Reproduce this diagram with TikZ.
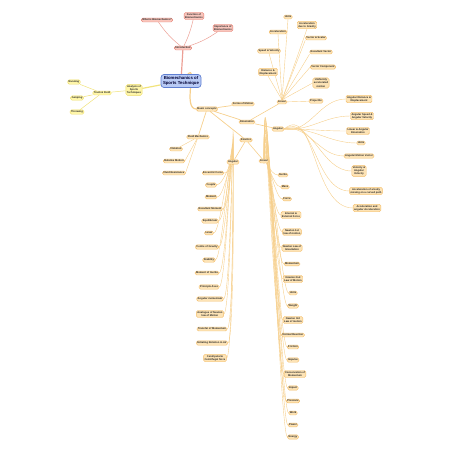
\documentclass[tikz,border=0pt]{standalone}
\usepackage{fontspec}
\newfontfamily\mapfont{Liberation Sans}
\usetikzlibrary{backgrounds}

\definecolor{obf}{HTML}{FDE3B5}
\definecolor{obd}{HTML}{F2BC68}
\definecolor{oln}{HTML}{F6CF8C}
\definecolor{rbf}{HTML}{F9C6BD}
\definecolor{rbd}{HTML}{E37A6D}
\definecolor{rln}{HTML}{EC9F95}
\definecolor{ybf}{HTML}{FFF6A8}
\definecolor{ybd}{HTML}{ECDB66}
\definecolor{yln}{HTML}{F1E37C}
\definecolor{cbf}{HTML}{B9CBF5}
\definecolor{cbd}{HTML}{5F7FD1}

\tikzset{
  box/.style={draw, rounded corners=1.5pt, inner sep=1pt, align=center, line width=0.4pt,
    text=black!85, font={\mapfont\bfseries\fontsize{2.6}{3.1}\selectfont}},
  obox/.style={box, draw=obd, fill=obf},
  rbox/.style={box, draw=rbd, fill=rbf},
  ybox/.style={box, draw=ybd, fill=ybf},
  cbox/.style={box, draw=cbd, fill=cbf, line width=0.7pt, rounded corners=3pt, inner sep=2pt,
    text=black!80!blue, font={\mapfont\bfseries\fontsize{4.3}{5}\selectfont}},
  oline/.style={draw=oln, line width=0.4pt},
  rline/.style={draw=rln, line width=0.5pt},
  yline/.style={draw=yln, line width=0.5pt},
  % y axis points down: out=90 is downwards on the page
  leftdrop/.style={out=90, in=0, out distance=#1, in distance=8pt},
  rightdrop/.style={out=90, in=180, out distance=#1, in distance=8pt}
}

\begin{document}
\begin{tikzpicture}[x=1pt, y=-1pt]
		\useasboundingbox (0,0) rectangle (452,452);
		
		%%%%% CENTRE %%%%%
		\node[cbox] (bio) at (181,81) {Biomechanics of\\Sports Technique};
		
		%%%%% INTRODUCTION %%%%%
		\node[rbox] (intro) at (183,48) {Introduction};
		\node[rbox] (what) at (157,20) {What is Biomechanics?};
		\node[rbox] (func) at (194,16) {Function of\\Biomechanics};
		\node[rbox] (imp) at (223,28) {Importance of\\Biomechanics};
		
		%%%%% ANALYSIS %%%%%
		\node[ybox] (analysis) at (134,90) {Analysis of\\Sports\\Techniques};
		\node[ybox] (track) at (102,93) {Track \& Field};
		\node[ybox] (running) at (74,82) {Running};
		\node[ybox] (jumping) at (77,98) {Jumping};
		\node[ybox] (throwing) at (77,112) {Throwing};
		
		%%%%% BASIC CONCEPTS %%%%%
		\node[obox] (basic) at (207,109) {Basic concepts};
		\node[obox] (forms) at (243,104) {Forms of Motion};
		\node[obox] (kinem) at (247,122) {Kinematics};
		\node[obox] (kinet) at (246,140) {Kinetics};
		\node[obox] (fluid) at (198,137) {Fluid Mechanics};
		\node[obox] (flot) at (176,149) {Flotation};
		\node[obox] (relmot) at (174,161) {Relative Motion};
		\node[obox] (fluidres) at (174,173) {Fluid Resistance};
		
		% kinematics - linear
		\node[obox] (linA) at (282,102) {Linear};
		\node[obox] (unitsA) at (288,17) {Units};
		\node[obox] (accg) at (307,25) {Acceleration\\due to Gravity};
		\node[obox] (acc) at (278,32) {Acceleration};
		\node[obox] (vecsc) at (316,38) {Vector \& Scalar};
		\node[obox] (speed) at (269,51) {Speed \& Velocity};
		\node[obox] (resvec) at (321,52) {Resultant Vector};
		\node[obox] (dist) at (268,72) {Distance \&\\Displacement};
		\node[obox] (veccomp) at (323,67) {Vector Component};
		\node[obox] (uniacc) at (321,83) {Uniformly\\accelerated\\motion};
		\node[obox] (proj) at (316,101) {Projectile};
		
		% kinematics - angular
		\node[obox] (angA) at (278,129) {Angular};
		\node[obox] (angdist) at (359,99) {Angular Distance \&\\Displacement};
		\node[obox] (angspeed) at (362,116) {Angular Speed \&\\Angular Velocity};
		\node[obox] (linang) at (358,131) {Linear \& Angular\\Kinematics};
		\node[obox] (unitsB) at (361,143) {Units};
		\node[obox] (angvec) at (359,156) {Angular Motion Vector};
		\node[obox] (velang) at (359,171) {Velocity \&\\Angular\\Velocity};
		\node[obox] (acccurve) at (366,191) {Acceleration of a body\\moving on a curved path};
		\node[obox] (accang) at (367,208) {Acceleration and\\angular Acceleration};
		
		% kinetics - angular
		\node[obox] (angK) at (233,162) {Angular};
		\node[obox] (eccf) at (213,173) {Eccentric Force};
		\node[obox] (couple) at (211,185) {Couple};
		\node[obox] (moment) at (211,197) {Moment};
		\node[obox] (resmom) at (210,209) {Resultant Moment};
		\node[obox] (equil) at (210,221) {Equilibrium};
		\node[obox] (lever) at (209,233) {Lever};
		\node[obox] (cog) at (207,247) {Centre of Gravity};
		\node[obox] (stab) at (209,260) {Stability};
		\node[obox] (moi) at (207,273) {Moment of Inertia};
		\node[obox] (paxes) at (209,287) {Principle Axes};
		\node[obox] (angmom) at (210,299) {Angular momentum};
		\node[obox] (analog) at (210,314) {Analogue of Newton\\law of Motion};
		\node[obox] (transfer) at (212,329) {Transfer of Momentum};
		\node[obox] (initrot) at (212,343) {Initiating Rotation in Air};
		\node[obox] (centri) at (215,358) {Centripetal \&\\Centrifugal force};
		
		% kinetics - linear
		\node[obox] (linK) at (264,161) {Linear};
		\node[obox] (inertia) at (283,175) {Inertia};
		\node[obox] (mass) at (285,187) {Mass};
		\node[obox] (force) at (287,199) {Force};
		\node[obox] (intext) at (291,215) {Internal \&\\External Force};
		\node[obox] (newt1) at (292,232) {Newton 1st\\law of motion};
		\node[obox] (newtg) at (292,248) {Newton Law of\\Gravitation};
		\node[obox] (momentum) at (292,264) {Momentum};
		\node[obox] (newt2) at (293,279) {Newton 2nd\\Law of Motion};
		\node[obox] (unitsC) at (293,293) {Units};
		\node[obox] (weight) at (293,306) {Weight};
		\node[obox] (newt3) at (293,320) {Newton 3rd\\Law of motion};
		\node[obox] (normal) at (293,335) {Normal Reaction};
		\node[obox] (friction) at (293,347) {Friction};
		\node[obox] (impulse) at (293,360) {Impulse};
		\node[obox] (consmom) at (295,374) {Conservation of\\Momentum};
		\node[obox] (impact) at (293,388) {Impact};
		\node[obox] (pressure) at (293,401) {Pressure};
		\node[obox] (work) at (293,413) {Work};
		\node[obox] (power) at (293,425) {Power};
		\node[obox] (energy) at (293,437) {Energy};
		
		%%%%% CONNECTORS %%%%%
		\begin{scope}[on background layer]
		\draw[rline, line width=1.2pt] (bio) -- (intro);
		\draw[rline] (intro) to[bend left=8] (what);
		\draw[rline] (intro) to[bend right=6] (func);
		\draw[rline] (intro) to[bend right=8] (imp);
		
		\draw[yline, line width=1.2pt] (bio) -- (analysis);
		\draw[yline] (analysis) -- (track);
		\draw[yline] (track) -- (running);
		\draw[yline] (track) -- (jumping);
		\draw[yline] (track) -- (throwing);
		
		\draw[oline, line width=1.2pt] (bio) to[out=45, in=180] (basic);
		\draw[oline, line width=0.7pt] (basic) -- (forms);
		\draw[oline, line width=0.7pt] (basic) -- (kinem);
		\draw[oline, line width=0.7pt] (basic) -- (kinet);
		\draw[oline, line width=0.7pt] (basic) -- (fluid);
		\draw[oline] (fluid) -- (flot);
		\draw[oline] (fluid) -- (relmot.east);
		\draw[oline] (fluid) -- (fluidres.east);
		
		\draw[oline, line width=0.6pt] (kinem) -- (linA);
		\draw[oline, line width=0.6pt] (kinem) -- (angA);
		\draw[oline] (linA.north) -- (unitsA.south);
		\draw[oline] (linA.north) -- (acc.south);
		\draw[oline] (linA.north) -- (speed.south);
		\draw[oline] (linA.north) -- (dist.south);
		\draw[oline] (linA.north) -- (accg.south);
		\draw[oline] (linA.north) -- (vecsc.south west);
		\draw[oline] (linA.north) -- (resvec.south west);
		\draw[oline] (linA.north) -- (veccomp.west);
		\draw[oline] (linA.north) -- (uniacc.west);
		\draw[oline] (linA) -- (proj);
		
		\draw[oline] (angA.east) to[out=-10, in=180] (angdist.west);
		\draw[oline] (angA.east) to[out=-5, in=180] (angspeed.west);
		\draw[oline] (angA.east) to[out=0, in=180] (linang.west);
		\draw[oline] (angA.east) to[out=5, in=180] (unitsB.west);
		\draw[oline] (angA.east) to[out=10, in=180] (angvec.west);
		\draw[oline] (angA.east) to[out=20, in=180] (velang.west);
		\draw[oline] (angA.east) to[out=30, in=180] (acccurve.west);
		\draw[oline] (angA.east) to[out=40, in=180] (accang.west);
		
		\draw[oline, line width=0.6pt] (kinet) -- (angK);
		\draw[oline, line width=0.6pt] (kinet) -- (linK);
		\draw[oline] (angK.south) to[leftdrop=6pt] (eccf.east);
		\draw[oline] (angK.south) to[leftdrop=14pt] (couple.east);
		\draw[oline] (angK.south) to[leftdrop=22pt] (moment.east);
		\draw[oline] (angK.south) to[leftdrop=31pt] (resmom.east);
		\draw[oline] (angK.south) to[leftdrop=39pt] (equil.east);
		\draw[oline] (angK.south) to[leftdrop=48pt] (lever.east);
		\draw[oline] (angK.south) to[leftdrop=57pt] (cog.east);
		\draw[oline] (angK.south) to[leftdrop=66pt] (stab.east);
		\draw[oline] (angK.south) to[leftdrop=76pt] (moi.east);
		\draw[oline] (angK.south) to[leftdrop=85pt] (paxes.east);
		\draw[oline] (angK.south) to[leftdrop=94pt] (angmom.east);
		\draw[oline] (angK.south) to[leftdrop=104pt] (analog.east);
		\draw[oline] (angK.south) to[leftdrop=115pt] (transfer.east);
		\draw[oline] (angK.south) to[leftdrop=125pt] (initrot.east);
		\draw[oline] (angK.south) to[leftdrop=135pt] (centri.east);
		
		\draw[oline] (linK.south) to[rightdrop=8pt] (inertia.west);
		\draw[oline] (linK.south) to[rightdrop=16pt] (mass.west);
		\draw[oline] (linK.south) to[rightdrop=25pt] (force.west);
		\draw[oline] (linK.south) to[rightdrop=36pt] (intext.west);
		\draw[oline] (linK.south) to[rightdrop=48pt] (newt1.west);
		\draw[oline] (linK.south) to[rightdrop=59pt] (newtg.west);
		\draw[oline] (linK.south) to[rightdrop=70pt] (momentum.west);
		\draw[oline] (linK.south) to[rightdrop=80pt] (newt2.west);
		\draw[oline] (linK.south) to[rightdrop=90pt] (unitsC.west);
		\draw[oline] (linK.south) to[rightdrop=99pt] (weight.west);
		\draw[oline] (linK.south) to[rightdrop=109pt] (newt3.west);
		\draw[oline] (linK.south) to[rightdrop=120pt] (normal.west);
		\draw[oline] (linK.south) to[rightdrop=128pt] (friction.west);
		\draw[oline] (linK.south) to[rightdrop=137pt] (impulse.west);
		\draw[oline] (linK.south) to[rightdrop=147pt] (consmom.west);
		\draw[oline] (linK.south) to[rightdrop=157pt] (impact.west);
		\draw[oline] (linK.south) to[rightdrop=166pt] (pressure.west);
		\draw[oline] (linK.south) to[rightdrop=174pt] (work.west);
		\draw[oline] (linK.south) to[rightdrop=183pt] (power.west);
		\draw[oline] (linK.south) to[rightdrop=191pt] (energy.west);
		\end{scope}
		
	\end{tikzpicture}
\end{document}
